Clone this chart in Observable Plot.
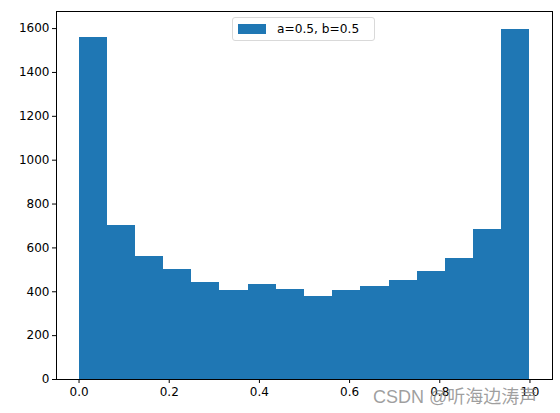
<!DOCTYPE html>
<html>
<head>
<meta charset="utf-8">
<script src="https://cdn.jsdelivr.net/npm/d3@7"></script>
<script src="https://cdn.jsdelivr.net/npm/@observablehq/plot@0.6"></script>
<style>
  html, body { margin: 0; padding: 0; background: #fff; }
  #wrap { position: relative; width: 560px; height: 413px; font-family: "DejaVu Sans", sans-serif; }
  #legend { position: absolute; left: 232px; top: 17px; width: 143px; height: 24px;
    border: 1px solid #d9d9d9; border-radius: 3px; background: rgba(255,255,255,0.8); box-sizing: border-box; }
  #legend .sw { position: absolute; left: 5px; top: 6px; width: 28px; height: 10px; background: #1f77b4; }
  #legend .lb { position: absolute; left: 44px; top: 3px; font-size: 12.2px; line-height: 16px; color: #000; white-space: nowrap; }
  #wm { position: absolute; left: 373px; top: 382px; font-size: 18px; color: rgba(128,128,128,0.75);
    font-family: "Liberation Sans", "Noto Sans CJK SC", sans-serif; white-space: nowrap; }
</style>
</head>
<body>
<div id="wrap"></div>
<script>
// Histogram of Beta(0.5, 0.5) samples, 16 equal bins on [0, 1]
const binCount = 16;
const counts = [1558, 704, 559, 500, 441, 405, 432, 409, 377, 405, 423, 450, 491, 551, 682, 1598];
const xTicks = [0, 0.2, 0.4, 0.6, 0.8, 1.0];
const yTicks = [0, 200, 400, 600, 800, 1000, 1200, 1400, 1600];
const seriesLabel = "a=0.5, b=0.5";
const watermark = "CSDN @听海边涛声";

const data = counts.map((c, i) => ({x1: i / binCount, x2: (i + 1) / binCount, count: c}));
const ymax = d3.max(counts) * 1.05;

const chart = Plot.plot({
  width: 560,
  height: 413,
  marginLeft: 56,
  marginRight: 8,
  marginTop: 11,
  marginBottom: 34,
  style: {fontFamily: "DejaVu Sans, sans-serif", fontSize: "12px", color: "#000", background: "#fff"},
  x: {domain: [-0.05, 1.05]},
  y: {domain: [0, ymax]},
  marks: [
    Plot.rectY(data, {x1: "x1", x2: "x2", y: "count", fill: "#1f77b4", inset: 0, shapeRendering: "crispEdges"}),
    Plot.frame({stroke: "#000", strokeWidth: 1}),
    Plot.axisX({ticks: xTicks, tickFormat: d3.format(".1f"), tickSize: 4, tickPadding: 4, label: null, fontSize: 12}),
    Plot.axisY({ticks: yTicks, tickFormat: d3.format("d"), tickSize: 4, tickPadding: 3, label: null, fontSize: 12})
  ]
});

const wrap = document.getElementById("wrap");
wrap.appendChild(chart);

const legend = document.createElement("div");
legend.id = "legend";
legend.innerHTML = `<div class="sw"></div><div class="lb"></div>`;
legend.querySelector(".lb").textContent = seriesLabel;
wrap.appendChild(legend);

const wm = document.createElement("div");
wm.id = "wm";
wm.textContent = watermark;
wrap.appendChild(wm);
</script>
</body>
</html>
